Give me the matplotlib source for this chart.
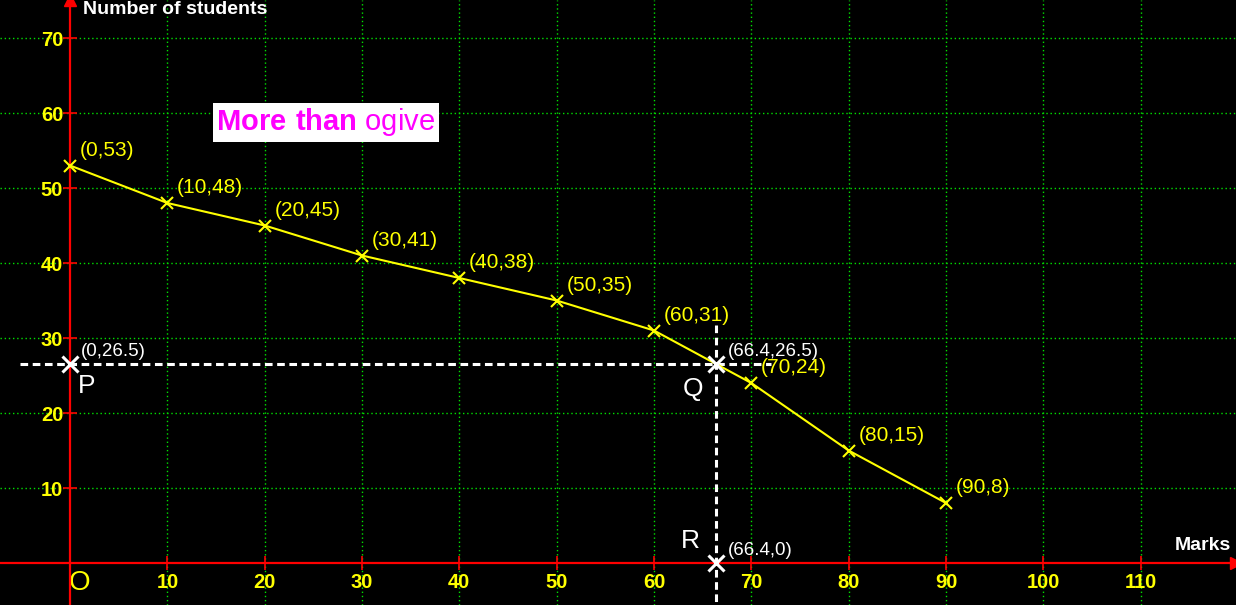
import matplotlib
matplotlib.use('Agg')
import matplotlib.pyplot as plt

plt.rcParams['font.family'] = ['Liberation Sans', 'DejaVu Sans']
plt.rcParams['mathtext.fontset'] = 'custom'
plt.rcParams['mathtext.rm'] = 'Liberation Sans'
plt.rcParams['mathtext.bf'] = 'Liberation Sans:bold'

# ogive data (marks, cumulative "more than" frequency)
marks = [0, 10, 20, 30, 40, 50, 60, 70, 80, 90]
students = [53, 48, 45, 41, 38, 35, 31, 24, 15, 8]

# median read-off
half_n = 26.5
median = 66.4

x_ticks = [10, 20, 30, 40, 50, 60, 70, 80, 90, 100, 110]
y_ticks = [10, 20, 30, 40, 50, 60, 70]

YELLOW = '#ffff00'
GRID = '#00e000'


def main():
    fig = plt.figure(figsize=(12.36, 6.05), dpi=100, facecolor='black')
    ax = fig.add_axes([0, 0, 1, 1], facecolor='black')
    ax.set_xlim(-7.2, 119.8)
    ax.set_ylim(-5.6, 75.07)

    # grid
    ax.set_xticks(x_ticks)
    ax.set_yticks(y_ticks)
    ax.grid(True, color=GRID, linestyle=(0, (1, 2)), linewidth=1.0)
    ax.set_axisbelow(True)

    # axes through origin
    for side in ['top', 'right']:
        ax.spines[side].set_visible(False)
    ax.spines['left'].set_position(('data', 0))
    ax.spines['bottom'].set_position(('data', 0))
    for side in ['left', 'bottom']:
        ax.spines[side].set_color('red')
        ax.spines[side].set_linewidth(1.6)
        ax.spines[side].set_zorder(3)
    ax.tick_params(axis='both', direction='inout', length=10, width=1.2,
                   color='red', labelcolor=YELLOW, labelsize=14.5)
    ax.tick_params(axis='y', pad=0)
    ax.tick_params(axis='x', pad=2)
    for lbl in ax.get_xticklabels() + ax.get_yticklabels():
        lbl.set_fontweight('bold')

    # arrow heads
    ax.plot([0], [75.07], marker='^', color='red', markersize=9, clip_on=False, zorder=4)
    ax.plot([119.8], [0], marker='>', color='red', markersize=9, clip_on=False, zorder=4)

    ax.text(-0.2, -0.9, 'O', color=YELLOW, fontsize=20, ha='left', va='top')
    ax.text(1.3, 75.0, 'Number of students', color='white', fontsize=14,
            fontweight='bold', ha='left', va='top')
    ax.text(119.3, 2.3, 'Marks', color='white', fontsize=14,
            fontweight='bold', ha='right', va='center')

    # guide lines
    ax.plot([-5.1, 72], [half_n, half_n], color='white', lw=2.2,
            linestyle=(0, (2.5, 1.5)), zorder=4)
    ax.plot([median, median], [31.7, -6], color='white', lw=2.2,
            linestyle=(0, (2.5, 1.5)), zorder=4, clip_on=False)

    # ogive
    ax.plot(marks, students, color=YELLOW, lw=1.5, marker='x',
            markersize=8, mew=1.5, zorder=5)
    for xv, yv in zip(marks, students):
        ax.annotate(f'({xv},{yv})', (xv, yv), xytext=(7, 4),
                    textcoords='offset points', color=YELLOW, fontsize=15,
                    ha='left', va='bottom', zorder=6)

    # P, Q, R
    pts = [(0, half_n), (median, half_n), (median, 0)]
    ax.plot([p[0] for p in pts], [p[1] for p in pts], linestyle='none',
            marker='x', color='white', markersize=11, mew=2.2, zorder=7)
    coord_labels = ['(0,26.5)', f'({median},{half_n})', f'({median},0)']
    for (xv, yv), txt in zip(pts, coord_labels):
        ax.annotate(txt, (xv, yv), xytext=(8, 3), textcoords='offset points',
                    color='white', fontsize=13.5, ha='left', va='bottom', zorder=8)
    names = ['P', 'Q', 'R']
    offsets = [(12, -16), (-17, -18), (-19, 16)]
    for (xv, yv), name, off in zip(pts, names, offsets):
        ax.annotate(name, (xv, yv), xytext=off, textcoords='offset points',
                    color='white', fontsize=19, ha='center', va='center', zorder=8)

    ax.text(15.0, 58.8, r'$\bf{More\ than}$ ogive', color='#ff00ff', fontsize=21,
            ha='left', va='center', zorder=8,
            bbox=dict(boxstyle='square,pad=0.12', facecolor='white', edgecolor='none'))

    fig.savefig('out.png', dpi=100, facecolor='black')


if __name__ == '__main__':
    main()
